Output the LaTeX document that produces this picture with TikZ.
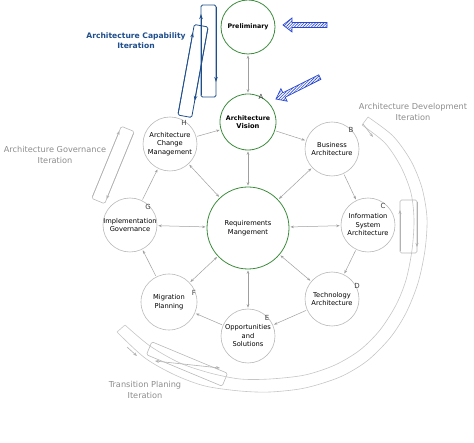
\documentclass[tikz,border=0pt]{standalone}
\usepackage{fontspec}
\setmainfont{DejaVu Sans}
\usetikzlibrary{arrows.meta,patterns.meta}

\definecolor{capblue}{RGB}{31,78,140}
\definecolor{stagegreen}{RGB}{60,140,60}
\definecolor{itergray}{RGB}{140,140,140}
\definecolor{hatchblue}{RGB}{40,70,210}

\tikzset{
  stage/.style={circle, draw=gray!55, line width=0.6pt, minimum size=54, inner sep=-3pt, align=center, font=\fontsize{6.7}{8.5}\selectfont},
  keystage/.style={stage, draw=stagegreen, line width=0.8pt},
  letter/.style={font=\fontsize{7}{8}\selectfont, text=black!75},
  flow/.style={draw=gray!75, line width=0.5pt, -{Stealth[length=3.5pt,width=2.6pt]}, shorten >=1pt, shorten <=1pt},
  twoway/.style={flow, {Stealth[length=3.5pt,width=2.6pt]}-{Stealth[length=3.5pt,width=2.6pt]}},
  iterlabel/.style={align=center, text=itergray, font=\fontsize{8.2}{10.5}\selectfont},
  band/.style={draw=gray!45, line width=0.6pt},
  loopbox/.style={draw=gray!55, line width=0.6pt, rounded corners=1.5pt},
  looparrow/.style={draw=gray!60, line width=0.6pt, -{Stealth[length=4pt,width=3pt]}},
  capbox/.style={draw=capblue, line width=0.8pt, rounded corners=1.5pt},
  caparrow/.style={draw=capblue, line width=0.8pt, -{Stealth[length=5pt,width=3.5pt]}},
  hatcharrow/.style={draw=hatchblue, line width=0.7pt, pattern={Lines[angle=45,distance=2pt,line width=0.6pt]}, pattern color=hatchblue}
}

\begin{document}
\begin{tikzpicture}[x=1pt,y=-1pt]
  \useasboundingbox (0,0) rectangle (474,443);

  % development band
  \draw[band] plot[smooth] coordinates {(368,117) (393,136) (411,161) (422,188) (427,218) (425,250) (418,283) (406,313) (390,338) (367,361) (340,377) (305,388) (270,392) (240,391) (205,386) (175,375) (145,358) (117,332)};
  \draw[band] plot[smooth] coordinates {(362,125) (385,143) (401,167) (411,193) (414,220) (412,250) (406,280) (396,305) (380,330) (360,350) (335,365) (305,375) (270,379) (240,379) (210,373) (180,363) (150,346) (125,325)};
  \draw[band] (362,125) -- (368,117);
  \draw[band] (125,325) -- (117,332);

  % stages
  \node[keystage] (prelim) at (248,27) {\fontsize{6.3}{8}\selectfont\textbf{Preliminary}};
  \node[keystage, minimum size=56] (vision) at (248,122) {\fontsize{6.3}{8}\selectfont\textbf{Architecture}\\\textbf{Vision}};
  \node[keystage, minimum size=82] (req) at (248,228) {Requirements\\Mangement};
  \node[stage] (bus) at (332,149) {Business\\Architecture};
  \node[stage] (info) at (368,225) {Information\\System\\Architecture};
  \node[stage] (tech) at (332,299) {Technology\\Architecture};
  \node[stage] (opp) at (248,336) {Opportunities\\and\\Solutions};
  \node[stage, minimum size=56] (mig) at (169,302) {Migration\\Planning};
  \node[stage] (impl) at (130,225) {Implementation\\Governance};
  \node[stage] (change) at (170,144) {Architecture\\Change\\Management};

  \node[letter] (tagA) at (261,97) {A};
  \node[letter] (tagB) at (351,130) {B};
  \node[letter] (tagC) at (383,206) {C};
  \node[letter] (tagD) at (357,286) {D};
  \node[letter] (tagE) at (267,318) {E};
  \node[letter] (tagF) at (194,293) {F};
  \node[letter] (tagG) at (148,207) {G};
  \node[letter] (tagH) at (184,123) {H};

  % cycle
  \draw[twoway] (prelim) -- (vision);
  \draw[flow] (vision) -- (bus);
  \draw[flow] (bus) -- (info);
  \draw[flow] (info) -- (tech);
  \draw[flow] (tech) -- (opp);
  \draw[flow] (opp) -- (mig);
  \draw[flow] (mig) -- (impl);
  \draw[flow] (impl) -- (change);
  \draw[flow] (change) -- (vision);
  \foreach \s in {vision,bus,info,tech,opp,mig,impl,change}
    \draw[twoway] (req) -- (\s);

  % development iteration
  \draw[loopbox] (400,200) rectangle (417,253);
  \draw[looparrow] (400,251) -- (400,210);
  \draw[looparrow] (417,202) -- (417,247);
  \draw[looparrow] (363,124) -- (373,137);
  \node[iterlabel] (devlabel) at (413,112) {Architecture Development\\Iteration};

  % governance iteration
  \begin{scope}[shift={(113,165)}, rotate=-22.3]
    \draw[loopbox] (-7,-39) rectangle (7,39);
    \draw[looparrow] (-7,37) -- (-7,-34);
    \draw[looparrow] (7,-37) -- (7,34);
  \end{scope}
  \node[iterlabel] (govlabel) at (55,155) {Architecture Governance\\Iteration};

  % transition iteration
  \begin{scope}[shift={(187,364)}, rotate=-22.6]
    \draw[loopbox] (-41,-7) rectangle (41,7);
  \end{scope}
  \draw[looparrow, {Stealth[length=4pt,width=3pt]}-{Stealth[length=4pt,width=3pt]}] (155,361) -- (220,368);
  \draw[looparrow] (127,347) -- (137,356);
  \node[iterlabel] (translabel) at (145,390) {Transition Planing\\Iteration};

  % capability iteration
  \draw[capbox] (201,5) rectangle (216,97);
  \draw[caparrow] (201,95) -- (201,14);
  \draw[caparrow] (216,7) -- (216,82);
  \begin{scope}[shift={(193,71)}, rotate=-10.3]
    \draw[capbox] (-7,-46) rectangle (7,46);
    \draw[caparrow] (-7,44) -- (-7,-38);
    \draw[caparrow] (7,-44) -- (7,29);
  \end{scope}
  \node[align=center, text=capblue, font=\fontsize{7.6}{10}\selectfont\bfseries] (caplabel) at (136,41) {Architecture Capability\\Iteration};

  % pointers
  \begin{scope}[shift={(283,25)}]
    \draw[hatcharrow] (0,0) -- (9,-7) -- (9,-2.5) -- (44,-2.5) -- (44,2.5) -- (9,2.5) -- (9,7) -- cycle;
  \end{scope}
  \begin{scope}[shift={(276,99)}, rotate=26.6]
    \draw[hatcharrow] (0,0) -- (9,-7) -- (9,-2.5) -- (49,-2.5) -- (49,2.5) -- (9,2.5) -- (9,7) -- cycle;
  \end{scope}
\end{tikzpicture}
\end{document}
